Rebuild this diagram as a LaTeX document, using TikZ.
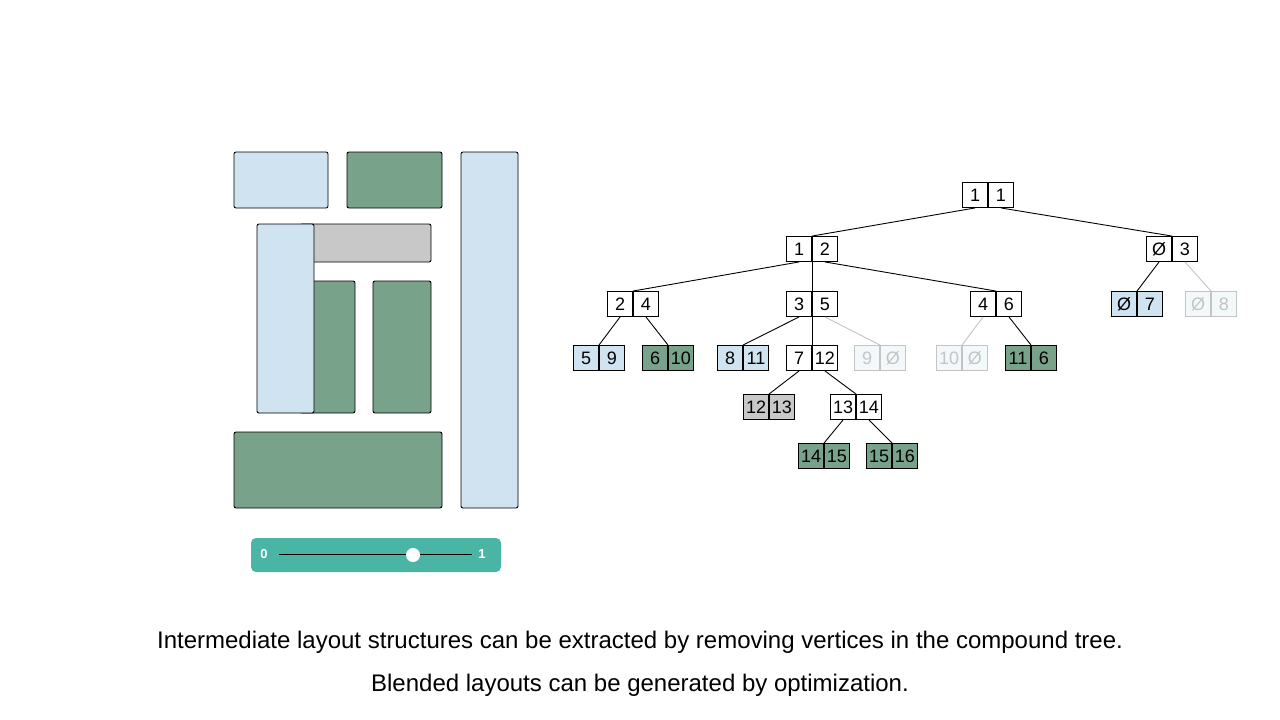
\documentclass[tikz,border=0pt]{standalone}
\usepackage{fontspec}
\setmainfont{Liberation Sans}
\usetikzlibrary{positioning}
\definecolor{lblue}{HTML}{D0E3F1}
\definecolor{lgreen}{HTML}{78A28A}
\definecolor{lgray}{HTML}{C8C8C8}
\definecolor{teal}{HTML}{4BB5A5}
\definecolor{fade}{HTML}{C4C4C4}
\tikzset{
  cell/.style={draw, minimum width=25pt, minimum height=25pt, inner sep=0pt,
    font=\fontsize{18}{18}\selectfont, line width=.9pt},
  white/.style={fill=white},
  blue/.style={fill=lblue},
  green/.style={fill=lgreen},
  grey/.style={fill=lgray},
  faded/.style={draw=fade, text=fade, fill=lblue!25},
  blk/.style={draw, rounded corners=2pt, line width=.9pt},
  edge/.style={line width=.9pt},
  fedge/.style={line width=.9pt, fade},
}
% two-cell tree vertex: name, position, left, right, style
\newcommand{\tv}[5]{%
  \node[cell,#5, anchor=east] (#1l) at (#2) {#3};
  \node[cell,#5, anchor=west] (#1r) at (#2) {#4};
  \coordinate (#1t) at (#1l.north east);
  \coordinate (#1b) at (#1l.south east);}
\begin{document}
\begin{tikzpicture}[x=1pt, y=-1pt]
  \useasboundingbox[fill=white] (0,0) rectangle (1280,720);

  % layout
  \draw[blk, fill=lblue] (234,152) rectangle (328,208);
  \draw[blk, fill=lgreen] (347,152) rectangle (442,208);
  \draw[blk, fill=lblue] (461,152) rectangle (518,508);
  \draw[blk, fill=lgray] (300,224) rectangle (431,262);
  \draw[blk, fill=lgreen] (300,281) rectangle (355,413);
  \draw[blk, fill=lgreen] (373,281) rectangle (431,413);
  \draw[blk, fill=lblue] (257,224) rectangle (314,413);
  \draw[blk, fill=lgreen] (234,432) rectangle (442,508);

  % slider
  \fill[teal, rounded corners=5pt] (251,538) rectangle (501,572);
  \node[text=white, font=\bfseries\fontsize{13}{13}\selectfont] (s0) at (264,554) {0};
  \node[text=white, font=\bfseries\fontsize{13}{13}\selectfont] (s1) at (482,554) {1};
  \draw[white, line width=1pt] (s0.east) ++(8,0) -- ([xshift=-3pt]s1.west);
  \fill[white] (413,555) circle (7);

  % tree
  \tv{a}{988,195}{1}{1}{white}
  \tv{b}{812,249}{1}{2}{white}
  \tv{c}{1172,249}{Ø}{3}{white}
  \tv{d}{633,304}{2}{4}{white}
  \tv{e}{812,304}{3}{5}{white}
  \tv{f}{996,304}{4}{6}{white}
  \tv{g}{1137,304}{Ø}{7}{blue}
  \tv{h}{1211,304}{Ø}{8}{faded}
  \tv{i}{599,358}{5}{9}{blue}
  \tv{j}{668,358}{6}{10}{green}
  \tv{k}{743,358}{8}{11}{blue}
  \tv{m}{880,358}{9}{Ø}{faded}
  \tv{n}{962,358}{10}{Ø}{faded}
  \tv{o}{1031,358}{11}{6}{green}
  \tv{p}{769,407}{12}{13}{grey}
  \tv{q}{856,407}{13}{14}{white}
  \tv{r}{824,456}{14}{15}{green}
  \tv{s}{892,456}{15}{16}{green}

  \draw[edge] (al.south) -- (bt);
  \draw[edge] (ar.south) -- (ct);
  \draw[edge] (bl.south) -- (dt);
  \draw[edge] (bb) -- (et);
  \draw[edge] (br.south) -- (ft);
  \draw[edge] (cl.south) -- (gt);
  \draw[fedge] (cr.south) -- (ht);
  \draw[edge] (dl.south) -- (it);
  \draw[edge] (dr.south) -- (jt);
  \draw[edge] (el.south) -- (kt);
  \draw[fedge] (er.south) -- (mt);
  \draw[fedge] (fl.south) -- (nt);
  \draw[edge] (fr.south) -- (ot);
  \tv{l}{812,358}{7}{12}{white}
  \draw[edge] (eb) -- (lt);
  \draw[edge] (ll.south) -- (pt);
  \draw[edge] (lr.south) -- (qt);
  \draw[edge] (ql.south) -- (rt);
  \draw[edge] (qr.south) -- (st);

  % caption
  \node[font=\fontsize{24}{24}\selectfont] (cap1) at (640,642) {Intermediate layout structures can be extracted by removing vertices in the compound tree.};
  \node[font=\fontsize{24}{24}\selectfont] (cap2) at (640,685) {Blended layouts can be generated by optimization.};
\end{tikzpicture}
\end{document}
